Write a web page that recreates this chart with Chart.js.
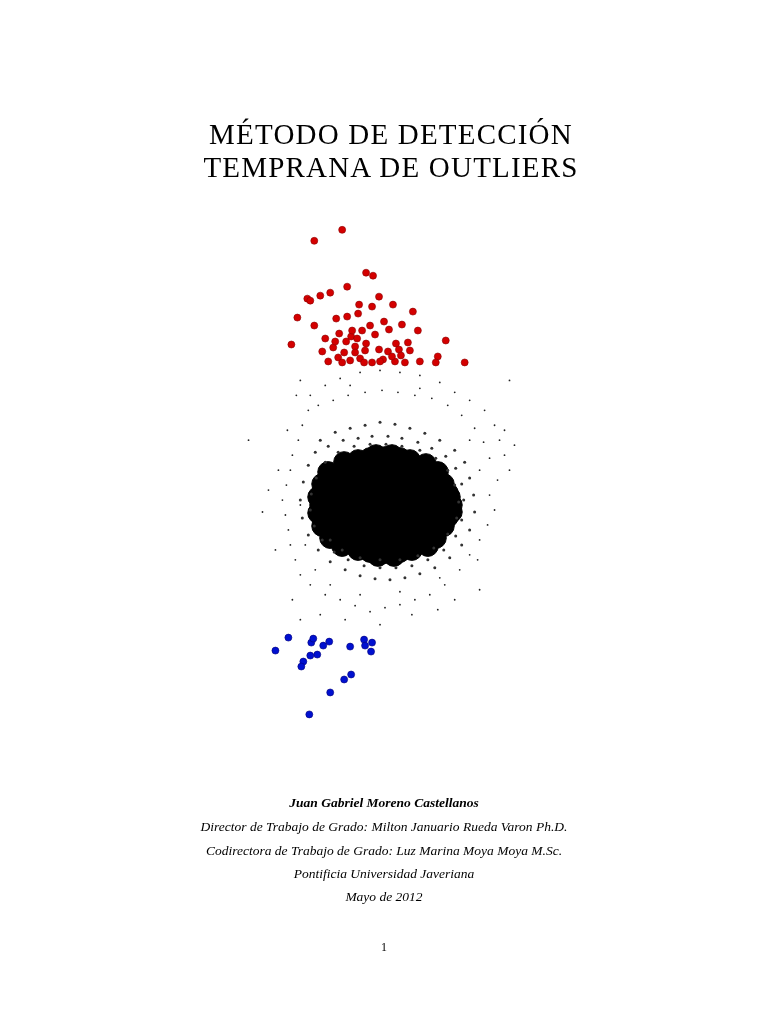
<!DOCTYPE html>
<html><head><meta charset="utf-8">
<script src="https://cdn.jsdelivr.net/npm/chart.js@4"></script>
<style>
body{margin:0;width:768px;height:1024px;background:#fff;position:relative;font-family:"Liberation Serif","DejaVu Serif",serif;overflow:hidden}
#c{position:absolute;left:0;top:0}
.t{position:absolute;left:0;width:768px;text-align:center;color:#000}
.title{font-size:29px;letter-spacing:1.2px;left:7px}
.s{font-size:13.5px;font-style:italic}
</style></head><body>
<canvas id="c" width="768" height="1024"></canvas>
<div class="t title" style="top:118px">MÉTODO DE DETECCIÓN</div>
<div class="t title" style="top:151px">TEMPRANA DE OUTLIERS</div>
<div class="t s" style="top:795px;font-weight:bold">Juan Gabriel Moreno Castellanos</div>
<div class="t s" style="top:819px">Director de Trabajo de Grado: Milton Januario Rueda Varon Ph.D.</div>
<div class="t s" style="top:843px">Codirectora de Trabajo de Grado: Luz Marina Moya Moya M.Sc.</div>
<div class="t s" style="top:866px">Pontificia Universidad Javeriana</div>
<div class="t s" style="top:889px">Mayo de 2012</div>
<div class="t" style="top:940px;font-size:12px">1</div>
<script>
const redPts=[[314,240],[342,229],[366,272],[373,275],[307,298],[320,295],[330,292],[347,286],[359,304],[379,296],[393,304],[413,311],[372,306],[297,317],[314,325],[336,318],[347,316],[358,313],[370,325],[384,321],[402,324],[418,330],[446,340],[291,344],[325,338],[339,333],[351,336],[362,330],[375,334],[389,329],[396,343],[408,342],[322,351],[333,347],[344,352],[355,346],[366,343],[379,349],[388,351],[399,349],[410,350],[438,356],[328,361],[338,357],[350,360],[360,358],[372,362],[383,359],[395,361],[405,362],[420,361],[436,362],[465,362],[355,352],[346,341],[352,330],[365,350],[380,361],[392,356],[335,341],[310,300],[401,355],[342,362],[364,362],[357,338]];
const bluePts=[[275,651],[288,638],[303,662],[301,667],[310,656],[311,643],[317,655],[313,639],[323,646],[329,642],[350,647],[364,640],[365,646],[372,643],[371,652],[344,680],[351,675],[330,693],[309,715]];
const corePts=[[370,458],[385,457],[400,458],[352,467],[365,466],[380,466],[395,466],[410,466],[420,468],[334,479],[347,478],[362,478],[377,478],[392,478],[407,478],[422,478],[435,479],[324,492],[336,492],[350,492],[365,492],[380,492],[395,492],[410,492],[425,492],[440,492],[448,493],[320,505],[330,505],[345,505],[360,505],[375,505],[390,505],[405,505],[420,505],[435,505],[450,505],[452,505],[324,518],[336,518],[350,518],[365,518],[380,518],[395,518],[410,518],[425,518],[440,518],[448,517],[334,531],[347,532],[362,532],[377,532],[392,532],[407,532],[422,532],[435,531],[352,543],[365,544],[380,544],[395,544],[410,544],[420,542],[370,552],[385,553],[400,552],[344,462],[358,460],[376,455],[392,455],[410,460],[426,464],[438,472],[328,472],[322,484],[444,484],[450,497],[452,512],[318,497],[318,513],[322,526],[444,526],[436,538],[330,538],[342,546],[428,546],[358,550],[412,550],[378,556],[394,556]];
const haloPts=[[320,440],[335,432],[350,428],[365,425],[380,422],[395,424],[410,428],[425,433],[440,440],[455,450],[465,462],[470,478],[474,495],[475,512],[470,530],[462,545],[450,558],[435,568],[420,574],[405,578],[390,580],[375,579],[360,576],[345,570],[330,562],[318,550],[308,535],[302,518],[300,500],[303,482],[308,465],[315,452],[328,446],[343,440],[358,438],[372,436],[388,436],[402,438],[418,442],[432,448],[446,456],[456,468],[462,484],[464,500],[462,520],[456,536],[444,550],[428,560],[412,566],[396,568],[380,568],[364,566],[348,560],[334,552],[322,540],[314,526],[310,510],[311,494],[316,478],[325,462],[338,452],[354,446],[370,444],[386,444],[402,446],[420,450],[436,458],[448,470],[455,485],[459,502],[457,518],[448,534],[434,548],[418,556],[400,560],[380,560],[360,558],[342,550],[330,540]];
const sparsePts=[[300,380],[310,395],[325,385],[340,378],[360,372],[380,370],[400,372],[420,375],[440,382],[455,392],[470,400],[485,410],[495,425],[500,440],[505,455],[510,470],[498,480],[490,495],[495,510],[488,525],[480,540],[470,555],[460,570],[445,585],[430,595],[415,600],[400,605],[385,608],[370,612],[355,606],[340,600],[325,595],[310,585],[300,575],[295,560],[290,545],[288,530],[285,515],[282,500],[286,485],[290,470],[292,455],[298,440],[302,425],[308,410],[318,405],[333,400],[348,395],[365,392],[382,390],[398,392],[415,395],[432,398],[448,405],[462,415],[475,428],[484,442],[490,458],[248,440],[268,490],[262,512],[275,550],[292,600],[300,620],[320,615],[345,620],[380,625],[412,615],[438,610],[455,600],[510,380],[505,430],[515,445],[480,590],[287,430],[278,470],[296,395],[350,385],[420,388],[470,440],[480,470],[478,560],[330,585],[315,570],[360,595],[400,592],[440,578],[300,505],[305,545]];
const pt=(a)=>a.map(p=>({x:p[0],y:p[1]}));
new Chart(document.getElementById('c'),{type:'scatter',
data:{datasets:[
{data:pt(sparsePts),pointRadius:0.9,backgroundColor:'#222',borderWidth:0},
{data:pt(haloPts),pointRadius:1.5,backgroundColor:'#333',borderWidth:0},
{data:pt(corePts),pointRadius:10.5,backgroundColor:'#000',borderColor:'#000',borderWidth:1},
{data:pt(redPts),pointRadius:3.5,backgroundColor:'#d40000',borderColor:'#8a0000',borderWidth:0.6},
{data:pt(bluePts),pointRadius:3.5,backgroundColor:'#0010d0',borderColor:'#00007a',borderWidth:0.6}]},
options:{responsive:false,animation:false,layout:{padding:0},
plugins:{legend:{display:false},tooltip:{enabled:false}},
scales:{x:{type:'linear',min:10,max:758,display:false},y:{type:'linear',min:10,max:1014,reverse:true,display:false}}}});
</script></body></html>
